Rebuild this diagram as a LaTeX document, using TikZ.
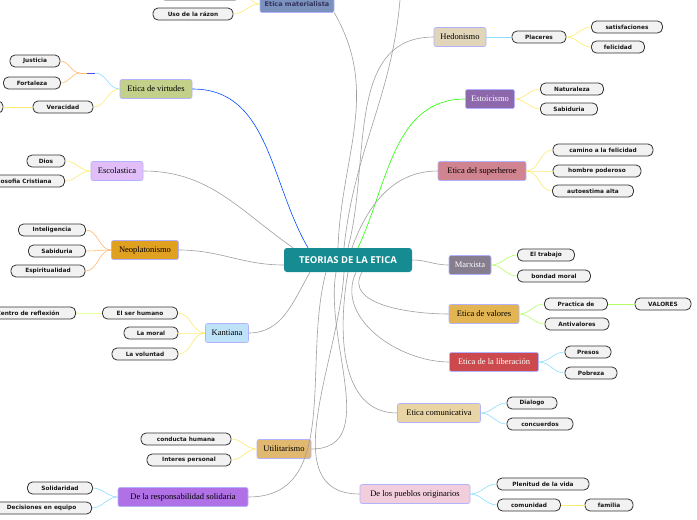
\documentclass[tikz,border=0pt]{standalone}
\usepackage{fontspec}
\setmainfont{Liberation Serif}
\setsansfont{DejaVu Sans}
\newfontfamily\centerfont{Open Sans}
\definecolor{cteal}{HTML}{168C92}
\definecolor{fmat}{HTML}{7A92BD}
\definecolor{fvir}{HTML}{C2D08A}
\definecolor{fesc}{HTML}{E2BEF8}
\definecolor{fneo}{HTML}{E0A020}
\definecolor{fkan}{HTML}{BEE2F8}
\definecolor{futi}{HTML}{E0B870}
\definecolor{fres}{HTML}{B070E6}
\definecolor{fhed}{HTML}{E2D6BA}
\definecolor{fest}{HTML}{8E68AC}
\definecolor{fsup}{HTML}{D08490}
\definecolor{fmar}{HTML}{867E8E}
\definecolor{fval}{HTML}{E2B452}
\definecolor{flib}{HTML}{CC4A4E}
\definecolor{fcom}{HTML}{E8D4A4}
\definecolor{fpue}{HTML}{F2CEDC}
\begin{document}
\begin{tikzpicture}[x=1pt,y=-1pt,
 leaf/.style={draw=gray!40!black,fill=gray!10,rounded corners=5pt,minimum height=12pt,inner sep=1pt,line width=0.8pt,font=\fontsize{5.8}{7}\selectfont\bfseries\sffamily,text=gray!20!black},
 topic/.style={draw=blue!30,rounded corners=2pt,minimum height=19pt,inner sep=2pt,line width=0.6pt,font=\fontsize{8.5}{10}\selectfont},
 conn/.style={draw=gray!75,line width=0.6pt},
 cy/.style={draw=yellow!80!orange!55,line width=0.6pt},
 co/.style={draw=orange!55,line width=0.6pt},
 cb/.style={draw=blue!30!cyan!45,line width=0.6pt},
 cg/.style={draw=green!50!yellow!60,line width=0.6pt}]
\useasboundingbox (0,0) rectangle (697,520);
\fill[white] (0,0) rectangle (697,520);
% center
\node[fill=cteal,rounded corners=3pt,minimum width=128pt,minimum height=24pt,text=white,font=\centerfont\fontsize{9.5}{11}\selectfont\bfseries] (c) at (348,260) {TEORIAS DE LA ETICA};
% topics
\node[topic,fill=fmat,minimum width=74pt,font=\fontsize{6.5}{8}\selectfont\bfseries\sffamily,text=blue!20!black!80,minimum height=17pt] (mat) at (297,4) {Etica materialista};
\node[topic,fill=fvir,minimum width=72pt] (vir) at (156,89) {Etica de virtudes};
\node[topic,fill=fesc,minimum width=52pt] (esc) at (117,171) {Escolastica};
\node[topic,fill=fneo,minimum width=67pt] (neo) at (145,250) {Neoplatonismo};
\node[topic,fill=fkan,minimum width=43pt] (kan) at (227,333) {Kantiana};
\node[topic,fill=futi,minimum width=54pt] (uti) at (284,449) {Utilitarismo};
\node[topic,fill=fres,minimum width=130pt] (res) at (183,497) {De la responsabilidad solidaria};
\node[topic,fill=fhed,minimum width=52pt] (hed) at (460,37) {Hedonismo};
\node[topic,fill=fest,text=white,minimum width=49pt] (est) at (490,99) {Estoicismo};
\node[topic,fill=fsup,minimum width=88pt] (sup) at (482,171) {Etica del superheroe};
\node[topic,fill=fmar,text=white,minimum width=42pt] (mar) at (470,265) {Marxista};
\node[topic,fill=fval,minimum width=70pt] (val) at (484,314) {Etica de valores};
\node[topic,fill=flib,text=white,minimum width=89pt] (lib) at (494,362) {Etica de la liberación};
\node[topic,fill=fcom,minimum width=83pt] (com) at (439,413) {Etica comunicativa};
\node[topic,fill=fpue,minimum width=110pt] (pue) at (415,494) {De los pueblos originarios};
\coordinate (top) at (400,0);
% center connectors
\draw[conn] ([xshift=-10pt]c.north) to[out=88,in=-60] (mat.south east);
\draw[conn] ([xshift=-4pt]c.north) to[out=84,in=-95] (top);
\draw[conn] ([xshift=0pt]c.north) to[out=75,in=180] (hed.west);
\draw[draw=green!80!lime,line width=0.6pt] ([xshift=10pt]c.north) to[out=65,in=180] (est.west);
\draw[conn] ([xshift=4pt]c.north) to[out=70,in=180] (sup.west);
\draw[draw=blue!70!cyan,line width=0.6pt] ([xshift=-40pt]c.north) to[out=120,in=0] (vir.east);
\draw[conn] ([xshift=-55pt]c.north) to[out=145,in=0] (esc.east);
\draw[conn] ([yshift=-5pt]c.west) to[out=180,in=0] (neo.east);
\draw[conn] (c.east) to[out=0,in=180] (mar.west);
\draw[conn] ([xshift=-38pt]c.south) to[out=-120,in=0] (kan.east);
\draw[conn] ([xshift=-12pt]c.south) to[out=-100,in=0] (uti.east);
\draw[conn] ([xshift=-22pt]c.south) to[out=-105,in=0] (res.east);
\draw[conn] ([xshift=-4pt]c.south) to[out=-93,in=180] (pue.west);
\draw[conn] ([xshift=0pt]c.south) to[out=-100,in=180] (com.west);
\draw[conn] ([xshift=8pt]c.south) to[out=-115,in=180] (lib.west);
\draw[conn] ([xshift=14pt]c.south) to[out=-120,in=180] (val.west);
% leaves
\node[leaf,minimum width=80pt] (m1) at (193,14) {Uso de la rázon};
\node[leaf,minimum width=80pt] (m2) at (200,-6) {};
\draw[cy] (mat.west) to[out=180,in=0] (m1.east);
\draw[cy] (mat.west) to[out=180,in=0] (m2.east);
\node[leaf,minimum width=50pt] (v1) at (35,61) {Justicia};
\node[leaf,minimum width=57pt] (v2) at (32,83) {Fortaleza};
\node[leaf,minimum width=60pt] (v3) at (63,107) {Veracidad};
\node[leaf,minimum width=30pt] (v4) at (-12,107) {};
\draw[cb] (vir.west) to[out=180,in=0] (95,73);
\draw[draw=blue!70,line width=1pt] (95,73) -- (87,73);
\draw[co] (87,73) -- (80,73);
\draw[co] (80,73) to[out=180,in=0] (v1.east);
\draw[co] (80,73) to[out=180,in=0] (v2.east);
\draw[cy] (vir.west) to[out=180,in=0] (v3.east);
\draw[cy] (v3.west) -- (v4.east);
\node[leaf,minimum width=38pt] (e1) at (46,161) {Dios};
\node[leaf,minimum width=85pt,anchor=east] (e2) at (65,181) {Filosofia Cristiana};
\draw[cy] (esc.west) to[out=180,in=0] (e1.east);
\draw[cy] (esc.west) to[out=180,in=0] (e2.east);
\node[leaf,minimum width=67pt] (n1) at (52,230) {Inteligencia};
\node[leaf,minimum width=57pt] (n2) at (57,251) {Sabiduria};
\node[leaf,minimum width=74pt] (n3) at (48,271) {Espiritualidad};
\foreach \n in {n1,n2,n3} \draw[co] (neo.west) to[out=180,in=0] (\n.east);
\node[leaf,minimum width=75pt] (k1) at (140,313) {El ser humano};
\node[leaf,minimum width=54pt] (k2) at (151,333) {La moral};
\node[leaf,minimum width=66pt] (k3) at (145,354) {La voluntad};
\node[leaf,minimum width=95pt,anchor=east] (k4) at (76,313) {Centro de reflexión};
\foreach \n in {k1,k2,k3} \draw[cy] (kan.west) to[out=180,in=0] (\n.east);
\draw[draw=lime!40,line width=0.6pt] (k1.west) -- (k4.east);
\node[leaf,minimum width=90pt] (u1) at (186,439) {conducta humana};
\node[leaf,minimum width=84pt] (u2) at (189,460) {Interes personal};
\foreach \n in {u1,u2} \draw[cy] (uti.west) to[out=180,in=0] (\n.east);
\node[leaf,minimum width=65pt] (r1) at (60,488) {Solidaridad};
\node[leaf,minimum width=100pt,anchor=east] (r2) at (92,508) {Decisiones en equipo};
\foreach \n in {r1,r2} \draw[cb] (res.west) to[out=180,in=0] (\n.east);
\node[leaf,minimum width=54pt] (h1) at (539,37) {Placeres};
\node[leaf,minimum width=71pt] (h2) at (627,27) {satisfaciones};
\node[leaf,minimum width=53pt] (h3) at (618,47) {felicidad};
\draw[cb] (hed.east) -- (h1.west);
\foreach \n in {h2,h3} \draw[cy] (h1.east) to[out=0,in=180] (\n.west);
\node[leaf,minimum width=63pt] (s1) at (572,89) {Naturaleza};
\node[leaf,minimum width=57pt] (s2) at (569,109) {Sabiduria};
\foreach \n in {s1,s2} \draw[cy] (est.east) to[out=0,in=180] (\n.west);
\node[leaf,minimum width=100pt] (p1) at (603,150) {camino a la felicidad};
\node[leaf,minimum width=88pt] (p2) at (597,171) {hombre poderoso};
\node[leaf,minimum width=81pt] (p3) at (593,191) {autoestima alta};
\foreach \n in {p1,p2,p3} \draw[cy] (sup.east) to[out=0,in=180] (\n.west);
\node[leaf,minimum width=57pt] (x1) at (546,255) {El trabajo};
\node[leaf,minimum width=73pt] (x2) at (554,276) {bondad moral};
\foreach \n in {x1,x2} \draw[cg] (mar.east) to[out=0,in=180] (\n.west);
\node[leaf,minimum width=63pt] (a1) at (576,304) {Practica de};
\node[leaf,minimum width=56pt] (a2) at (663,304) {VALORES};
\node[leaf,minimum width=64pt] (a3) at (577,324) {Antivalores};
\foreach \n in {a1,a3} \draw[cg] (val.east) to[out=0,in=180] (\n.west);
\draw[cg] (a1.east) -- (a2.west);
\node[leaf,minimum width=46pt] (l1) at (588,352) {Presos};
\node[leaf,minimum width=52pt] (l2) at (591,373) {Pobreza};
\foreach \n in {l1,l2} \draw[cb] (lib.east) to[out=0,in=180] (\n.west);
\node[leaf,minimum width=50pt] (o1) at (532,403) {Dialogo};
\node[leaf,minimum width=66pt] (o2) at (540,424) {concuerdos};
\foreach \n in {o1,o2} \draw[cb] (com.east) to[out=0,in=180] (\n.west);
\node[leaf,minimum width=92pt] (q1) at (543,484) {Plenitud de la vida};
\node[leaf,minimum width=63pt] (q2) at (529,505) {comunidad};
\node[leaf,minimum width=48pt] (q3) at (609,505) {familia};
\foreach \n in {q1,q2} \draw[cb] (pue.east) to[out=0,in=180] (\n.west);
\draw[cy] (q2.east) -- (q3.west);
\end{tikzpicture}
\end{document}
